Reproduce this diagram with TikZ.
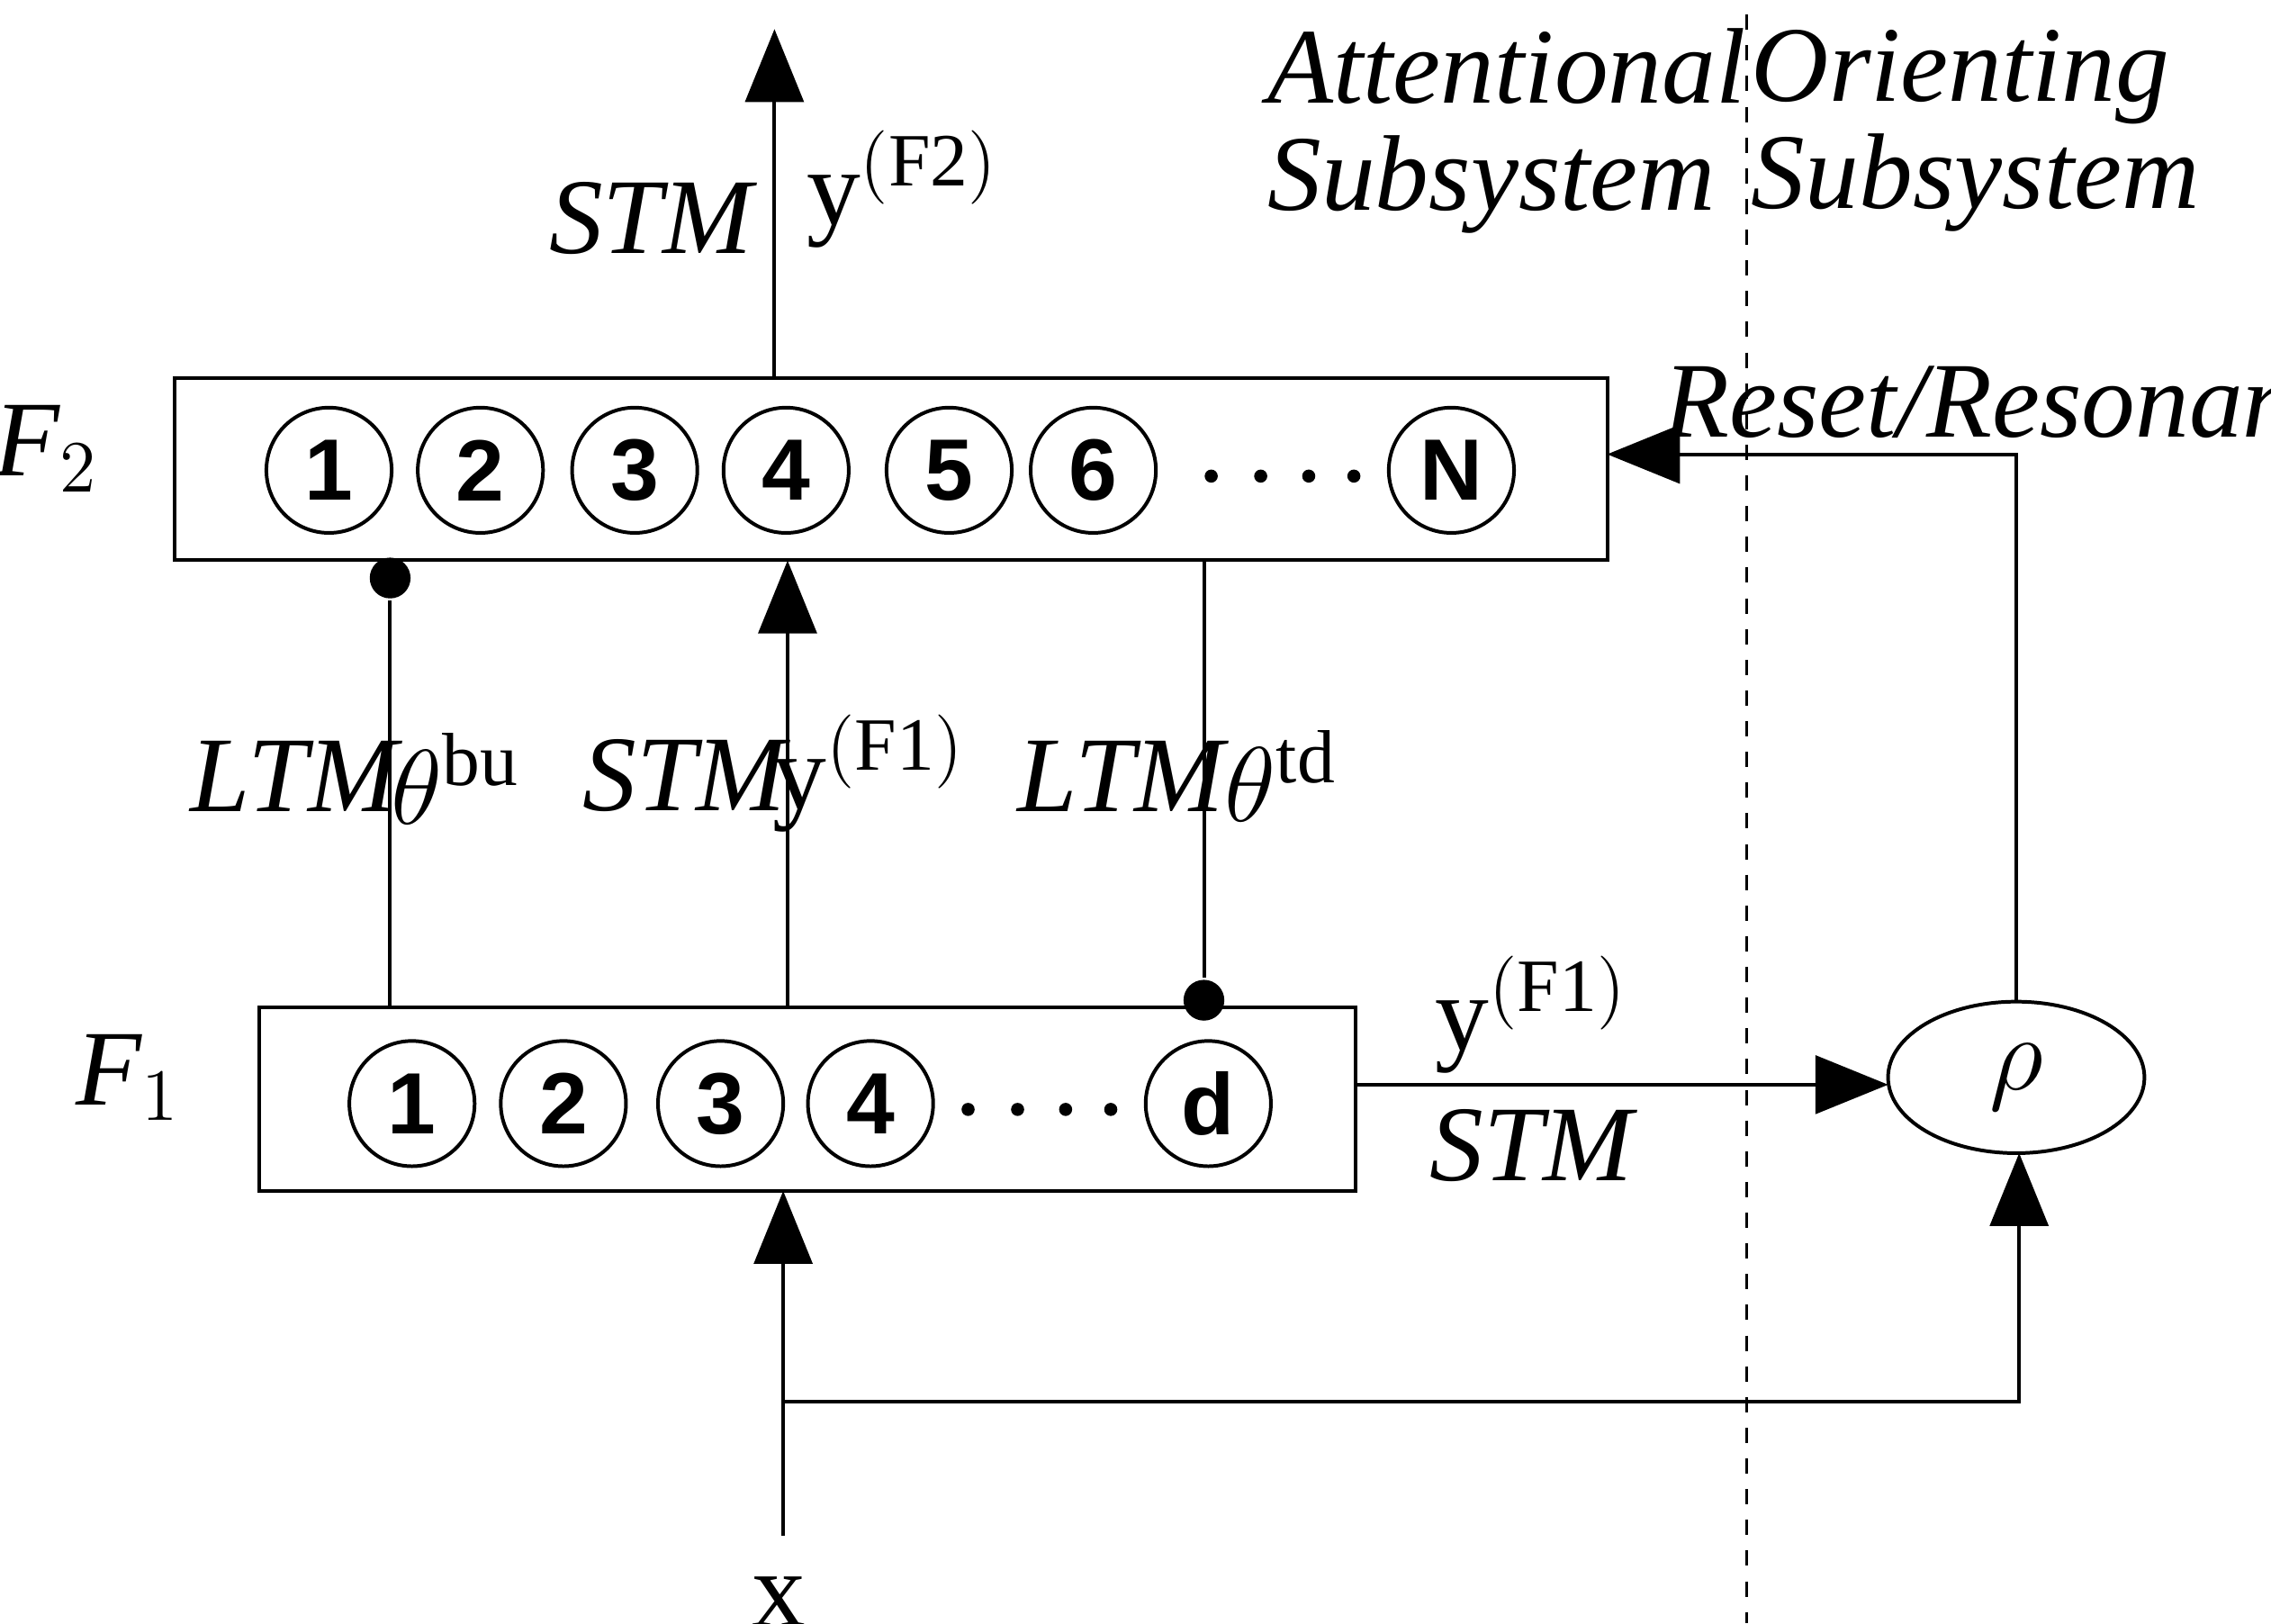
\documentclass[tikz,border=0pt]{standalone}
\usepackage{fontspec}
\setmainfont{Liberation Serif}
\newfontfamily\sansf{Liberation Sans}
\usetikzlibrary{arrows.meta,shapes.geometric}
\begin{document}
\begin{tikzpicture}[x=0.01cm,y=-0.01cm,line width=0.7pt,
  unit/.style={circle,draw,minimum size=0.86cm,inner sep=0pt,font=\sansf\bfseries\fontsize{17}{17}\selectfont},
  lab/.style={font=\fontsize{21}{21}\selectfont\itshape},
  sym/.style={font=\fontsize{21}{21}\selectfont},
  big/.style={-{Triangle[length=0.5cm,width=0.4cm]}},
  bdot/.style={circle,fill,inner sep=0pt,minimum size=0.28cm},
  dt/.style={circle,fill,inner sep=0pt,minimum size=0.09cm}]
\useasboundingbox (0,0) rectangle (1560,1115);
% layers
\node[draw,minimum width=9.84cm,minimum height=1.25cm] (f2) at (612,322) {};
\node[draw,minimum width=7.53cm,minimum height=1.26cm] (f1) at (554.5,755) {};
\foreach \n/\x in {1/226,2/330,3/436,4/540,5/652,6/751,N/997}
  \node[unit] (a\n) at (\x,323) {\n};
\foreach \i/\x in {1/832,2/866,3/899,4/930}
  \node[dt] (p\i) at (\x,327) {};
\foreach \n/\x in {1/283,2/387,3/495,4/598,d/830}
  \node[unit] (b\n) at (\x,758) {\n};
\foreach \i/\x in {1/665,2/699,3/732,4/763}
  \node[dt] (q\i) at (\x,762) {};
\node[draw,ellipse,minimum width=1.76cm,minimum height=1.04cm,font=\fontsize{21}{21}\selectfont] (rho) at (1385,740) {$\rho$};
% coordinates
\coordinate (top) at (532,20);
\coordinate (f2t) at (532,260);
\coordinate (bu1) at (268,692);
\node[bdot] (bu2) at (268,397) {};
\coordinate (st1) at (541,692);
\coordinate (st2) at (541,385);
\coordinate (td1) at (827,385);
\node[bdot] (td2) at (827,687) {};
\coordinate (xin) at (538,1055);
\coordinate (xtop) at (538,818);
\coordinate (xj) at (538,963);
\coordinate (xr) at (1387,963);
\coordinate (rb) at (1387,792);
\coordinate (rt) at (1385,688);
\coordinate (rc) at (1385,312);
\coordinate (f2r) at (1104,312);
\coordinate (f1r) at (931,745);
\coordinate (rl) at (1297,745);
% connectors
\draw[big] (f2t) -- (top);
\draw (bu1) -- (bu2);
\draw[big] (st1) -- (st2);
\draw (td1) -- (td2);
\draw[big] (xin) -- (xtop);
\draw[big] (xj) -- (xr) -- (rb);
\draw[big] (rt) -- (rc) -- (f2r);
\draw[big] (f1r) -- (rl);
\draw[dashed,line width=0.5pt] (1200,10) -- (1200,1115);
% labels
\node[lab] (l1) at (447,150) {STM};
\node[sym] (l2) at (620,130) {y$^{\mathrm{(F2)}}$};
\node[lab,align=left] (l3) at (1035,90) {Attentional\\Subsystem};
\node[lab,align=left] (l4) at (1357,90) {Orienting\\Subsystem};
\node[lab] (l5) at (1393,276) {Reset/Resonance};
\node[lab] (l6) at (202,533) {LTM};
\node[sym] (l7) at (313,535) {$\theta^{\mathrm{bu}}$};
\node[lab] (l8) at (470,533) {STM};
\node[sym] (l9) at (597,531) {y$^{\mathrm{(F1)}}$};
\node[lab] (l10) at (770,533) {LTM};
\node[sym] (l11) at (880,533) {$\theta^{\mathrm{td}}$};
\node[sym] (l12) at (1052,697) {y$^{\mathrm{(F1)}}$};
\node[lab] (l13) at (1052,787) {STM};
\node[sym] (l14) at (535,1100) {x};
\node[lab] (l15) at (32,308) {F$_2$};
\node[lab] (l16) at (88,740) {F$_1$};
\end{tikzpicture}
\end{document}
